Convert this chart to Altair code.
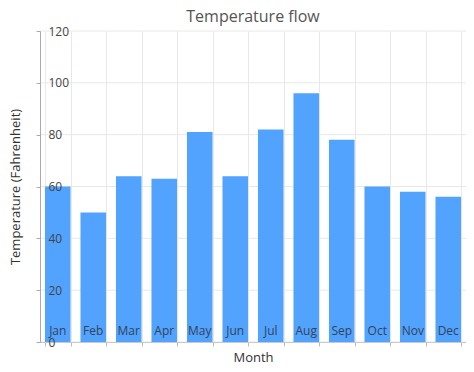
import altair as alt
import pandas as pd

months = ["Jan", "Feb", "Mar", "Apr", "May", "Jun", "Jul", "Aug", "Sep", "Oct", "Nov", "Dec"]
temps = [60, 50, 64, 63, 81, 64, 82, 96, 78, 60, 58, 56]
y_ticks = [0, 20, 40, 60, 80, 100, 120]

df = pd.DataFrame({"Month": months, "Temp": temps})
grid_df = pd.DataFrame({"Temp": y_ticks})

FONT = "Open Sans"
W, H = 426, 311

y_scale = alt.Scale(domain=[0, 120], nice=False)
x_scale = alt.Scale(paddingInner=0.28, paddingOuter=0.14)

y_axis = alt.Axis(
    title="Temperature (Fahrenheit)",
    values=y_ticks,
    titleFont=FONT,
    titleFontSize=13,
    titleFontWeight="normal",
    titleColor="#333333",
    titleX=-25,
    titleY=H / 2,
    titleAngle=-90,
    titleBaseline="middle",
    labelFont=FONT,
    labelFontSize=12,
    labelColor="#444444",
    labelAlign="left",
    labelPadding=-12,
    tickSize=4,
    tickColor="#aaaaaa",
    grid=False,
    domainColor="#aaaaaa",
    zindex=1,
)

x_axis = alt.Axis(
    title="Month",
    titleFont=FONT,
    titleFontSize=13,
    titleFontWeight="normal",
    titleColor="#333333",
    titleY=15,
    titleBaseline="middle",
    labels=False,
    tickSize=4,
    tickColor="#bbbbbb",
    tickBand="extent",
    grid=True,
    gridColor="#e8e8e8",
    domainColor="#aaaaaa",
    zindex=0,
)

grid = alt.Chart(grid_df).mark_rule(color="#e8e8e8", strokeWidth=1).encode(
    y=alt.Y("Temp:Q", scale=y_scale, axis=y_axis)
)

bars = alt.Chart(df).mark_bar(color="#52A3FD").encode(
    x=alt.X("Month:N", sort=months, scale=x_scale, axis=x_axis),
    y=alt.Y("Temp:Q", scale=y_scale, axis=y_axis),
)

labels = alt.Chart(df).mark_text(
    font=FONT, fontSize=12, color="#34425a", baseline="middle", align="center"
).encode(
    x=alt.X("Month:N", sort=months, scale=x_scale, axis=x_axis),
    y=alt.value(H - 11),
    text="Month:N",
)

chart = alt.layer(grid, bars, labels).properties(
    width=W,
    height=H,
    title=alt.TitleParams(
        "Temperature flow",
        font=FONT,
        fontSize=16,
        fontWeight="normal",
        color="#555555",
        anchor="middle",
        offset=0,
    ),
    autosize=alt.AutoSizeParams(type="none"),
    padding={"left": 32, "top": 23, "right": 0, "bottom": 22},
).configure_view(stroke=None)

chart.save("out.html", embed_options={"renderer": "svg", "actions": False})
